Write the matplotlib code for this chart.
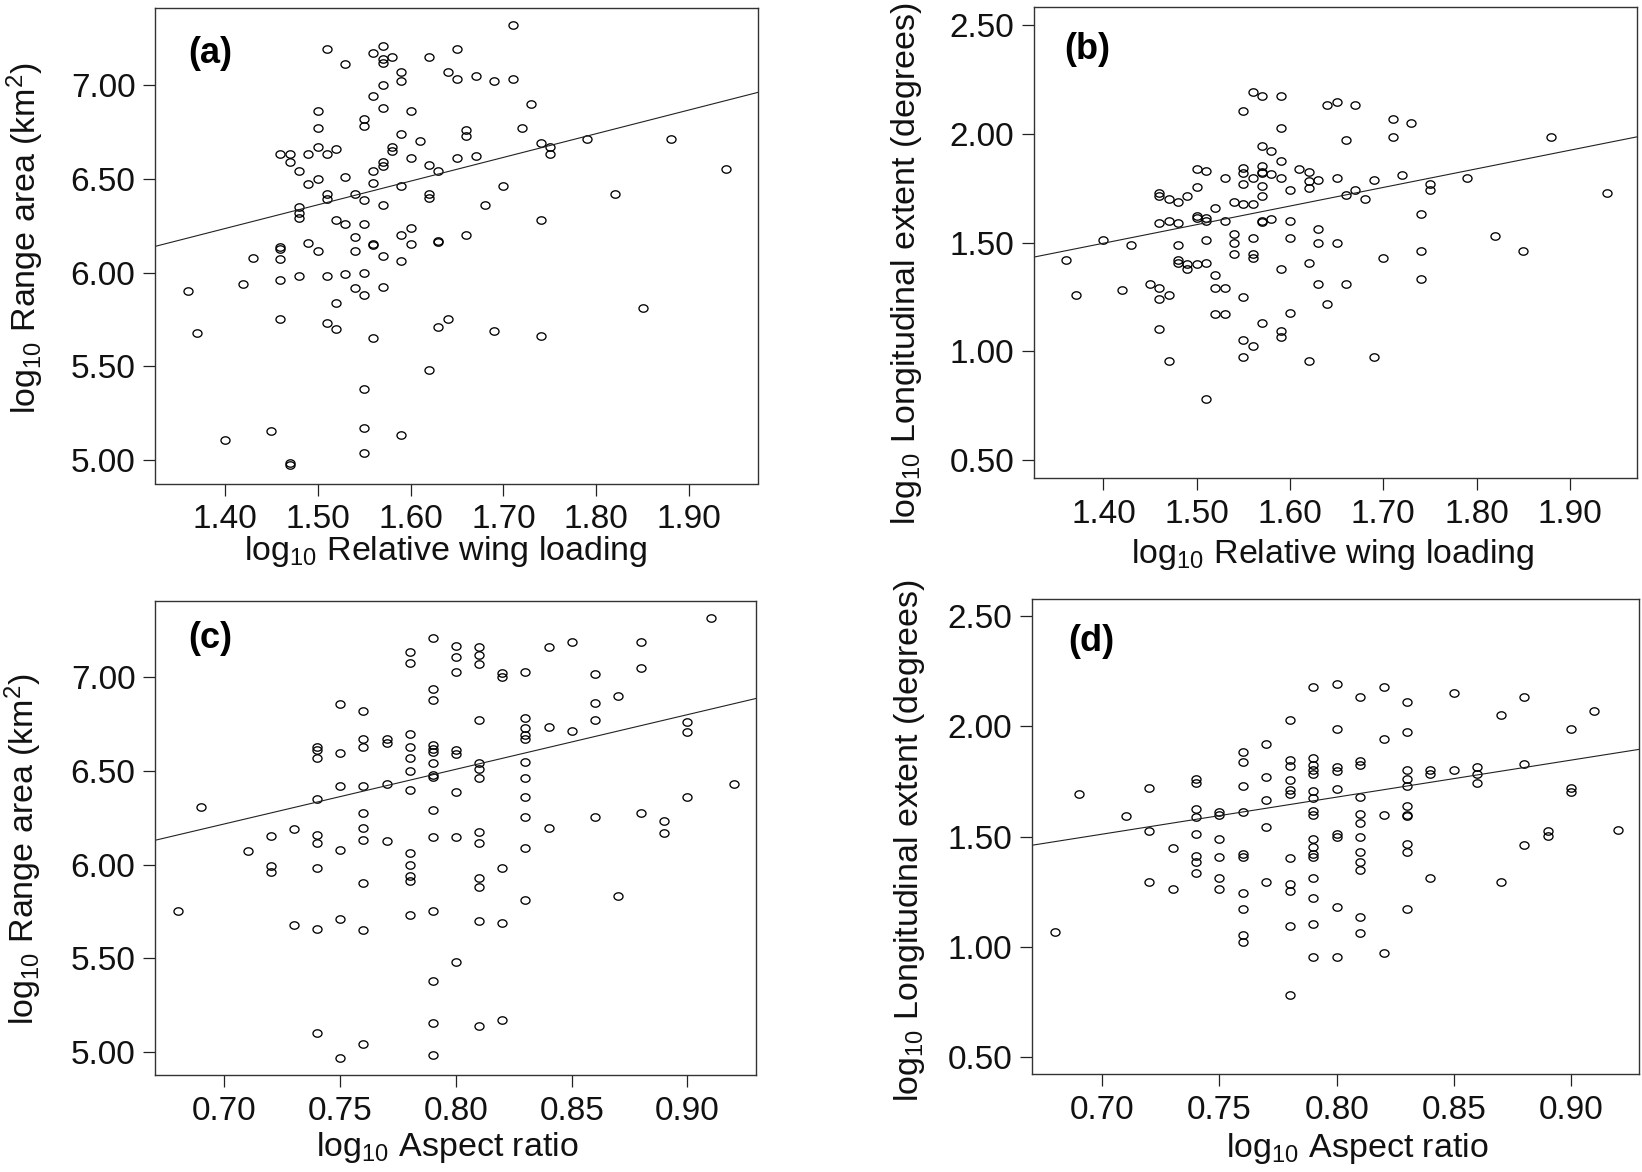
import matplotlib
matplotlib.use("Agg")
import matplotlib.pyplot as plt
import numpy as np
from matplotlib.path import Path

plt.rcParams['font.family'] = ['Liberation Sans', 'DejaVu Sans']
plt.rcParams['mathtext.fontset'] = 'custom'
plt.rcParams['mathtext.rm'] = 'Liberation Sans'
plt.rcParams['mathtext.it'] = 'Liberation Sans:italic'
plt.rcParams['mathtext.bf'] = 'Liberation Sans:bold'

# ---- data ----
# (a) log10 relative wing loading vs log10 range area
xa = [1.71, 1.51, 1.57, 1.56, 1.58, 1.57, 1.57, 1.53, 1.62, 1.65, 1.59, 1.59, 1.64, 1.65, 1.67,
      1.69, 1.71, 1.57, 1.56, 1.57, 1.73, 1.50, 1.60, 1.55, 1.55, 1.50, 1.72, 1.66, 1.66, 1.59,
      1.79, 1.88, 1.61, 1.58, 1.58, 1.74, 1.75, 1.75, 1.50, 1.52, 1.46, 1.47, 1.47, 1.49, 1.51,
      1.60, 1.65, 1.67, 1.57, 1.57, 1.62, 1.94, 1.48, 1.56, 1.63, 1.53, 1.50, 1.56, 1.49, 1.59,
      1.70, 1.54, 1.51, 1.51, 1.62, 1.62, 1.82, 1.55, 1.57, 1.68, 1.48, 1.48, 1.48, 1.52, 1.74,
      1.53, 1.55, 1.60, 1.59, 1.66, 1.54, 1.63, 1.63, 1.56, 1.56, 1.60, 1.49, 1.46, 1.46, 1.50,
      1.54, 1.57, 1.43, 1.59, 1.46, 1.55, 1.53, 1.48, 1.51, 1.46, 1.42, 1.57, 1.54, 1.36, 1.55,
      1.52, 1.85, 1.46, 1.64, 1.51, 1.63, 1.52, 1.69, 1.37, 1.56, 1.74, 1.62, 1.55, 1.40, 1.45,
      1.55, 1.59, 1.55, 1.47, 1.47]
ya = [7.32, 7.19, 7.21, 7.17, 7.15, 7.14, 7.12, 7.11, 7.15, 7.19, 7.07, 7.02, 7.07, 7.03, 7.05,
      7.02, 7.03, 7.00, 6.94, 6.88, 6.90, 6.86, 6.86, 6.82, 6.78, 6.77, 6.77, 6.76, 6.73, 6.74,
      6.71, 6.71, 6.70, 6.67, 6.65, 6.69, 6.67, 6.63, 6.67, 6.66, 6.63, 6.63, 6.59, 6.63, 6.63,
      6.61, 6.61, 6.62, 6.59, 6.57, 6.575, 6.55, 6.54, 6.54, 6.54, 6.51, 6.50, 6.48, 6.47, 6.46,
      6.46, 6.42, 6.42, 6.39, 6.42, 6.40, 6.42, 6.385, 6.36, 6.36, 6.35, 6.32, 6.29, 6.28, 6.28,
      6.26, 6.26, 6.24, 6.20, 6.20, 6.19, 6.17, 6.165, 6.15, 6.145, 6.15, 6.155, 6.135, 6.125, 6.115,
      6.115, 6.09, 6.075, 6.06, 6.07, 6.00, 5.99, 5.98, 5.98, 5.96, 5.94, 5.925, 5.92, 5.90, 5.88,
      5.835, 5.81, 5.75, 5.75, 5.73, 5.71, 5.70, 5.69, 5.68, 5.65, 5.66, 5.48, 5.38, 5.105, 5.155,
      5.17, 5.135, 5.04, 4.985, 4.975]

# (b) log10 relative wing loading vs log10 longitudinal extent
xb = [1.56, 1.57, 1.59, 1.55, 1.64, 1.65, 1.67, 1.71, 1.73, 1.59, 1.71, 1.88, 1.66, 1.57, 1.58,
      1.59, 1.57, 1.57, 1.57, 1.55, 1.55, 1.55, 1.50, 1.51, 1.58, 1.61, 1.62, 1.62, 1.62, 1.63,
      1.53, 1.56, 1.59, 1.65, 1.69, 1.72, 1.79, 1.75, 1.75, 1.50, 1.57, 1.60, 1.67, 1.66, 1.46,
      1.46, 1.49, 1.57, 1.47, 1.48, 1.68, 1.54, 1.55, 1.56, 1.52, 1.74, 1.50, 1.50, 1.51, 1.51,
      1.58, 1.46, 1.47, 1.48, 1.53, 1.57, 1.57, 1.60, 1.63, 1.54, 1.56, 1.60, 1.82, 1.40, 1.51,
      1.43, 1.48, 1.54, 1.63, 1.65, 1.85, 1.74, 1.54, 1.56, 1.56, 1.70, 1.36, 1.48, 1.48, 1.49,
      1.49, 1.50, 1.51, 1.62, 1.59, 1.74, 1.52, 1.45, 1.46, 1.42, 1.52, 1.53, 1.63, 1.66, 1.37,
      1.47, 1.55, 1.46, 1.64, 1.52, 1.53, 1.60, 1.57, 1.46, 1.59, 1.59, 1.55, 1.56, 1.55, 1.69,
      1.47, 1.62, 1.51, 1.94]
yb = [2.19, 2.175, 2.175, 2.107, 2.131, 2.148, 2.131, 2.067, 2.051, 2.028, 1.987, 1.987, 1.970, 1.943, 1.920,
      1.877, 1.852, 1.825, 1.818, 1.841, 1.820, 1.767, 1.839, 1.828, 1.816, 1.838, 1.823, 1.782, 1.751, 1.787,
      1.798, 1.798, 1.798, 1.798, 1.787, 1.810, 1.798, 1.770, 1.741, 1.757, 1.759, 1.741, 1.741, 1.720, 1.730,
      1.716, 1.713, 1.713, 1.702, 1.687, 1.702, 1.687, 1.677, 1.677, 1.661, 1.631, 1.623, 1.611, 1.611, 1.600,
      1.608, 1.592, 1.598, 1.592, 1.598, 1.597, 1.593, 1.598, 1.562, 1.539, 1.523, 1.523, 1.528, 1.513, 1.511,
      1.489, 1.489, 1.497, 1.500, 1.500, 1.461, 1.461, 1.448, 1.448, 1.431, 1.431, 1.420, 1.420, 1.407, 1.402,
      1.380, 1.402, 1.407, 1.407, 1.380, 1.333, 1.351, 1.308, 1.293, 1.282, 1.293, 1.293, 1.310, 1.310, 1.259,
      1.259, 1.252, 1.241, 1.218, 1.172, 1.172, 1.177, 1.131, 1.103, 1.093, 1.064, 1.052, 1.025, 0.972, 0.972,
      0.954, 0.954, 0.782, 1.728]

# (c) log10 aspect ratio vs log10 range area
xc = [0.91, 0.79, 0.80, 0.80, 0.80, 0.81, 0.81, 0.81, 0.78, 0.78, 0.85, 0.88, 0.88, 0.84, 0.82,
      0.82, 0.83, 0.86, 0.79, 0.79, 0.87, 0.75, 0.76, 0.86, 0.86, 0.81, 0.83, 0.83, 0.83, 0.83,
      0.84, 0.85, 0.90, 0.90, 0.78, 0.76, 0.76, 0.77, 0.77, 0.74, 0.74, 0.74, 0.78, 0.78, 0.79,
      0.79, 0.79, 0.80, 0.80, 0.75, 0.79, 0.79, 0.79, 0.81, 0.81, 0.81, 0.78, 0.83, 0.83, 0.75,
      0.76, 0.77, 0.92, 0.78, 0.80, 0.74, 0.83, 0.90, 0.69, 0.79, 0.76, 0.88, 0.83, 0.86, 0.89,
      0.84, 0.76, 0.73, 0.81, 0.89, 0.72, 0.74, 0.79, 0.80, 0.76, 0.77, 0.74, 0.81, 0.83, 0.71,
      0.75, 0.78, 0.78, 0.72, 0.72, 0.74, 0.82, 0.78, 0.78, 0.81, 0.81, 0.76, 0.87, 0.83, 0.68,
      0.79, 0.78, 0.75, 0.81, 0.82, 0.73, 0.74, 0.76, 0.80, 0.79, 0.79, 0.82, 0.81, 0.74, 0.76,
      0.79, 0.75]
yc = [7.32, 7.21, 7.17, 7.11, 7.03, 7.16, 7.12, 7.07, 7.135, 7.075, 7.19, 7.19, 7.05, 7.16, 7.025,
      7.00, 7.03, 7.02, 6.94, 6.88, 6.90, 6.86, 6.82, 6.865, 6.77, 6.77, 6.785, 6.73, 6.69, 6.67,
      6.735, 6.715, 6.76, 6.71, 6.70, 6.67, 6.63, 6.67, 6.65, 6.63, 6.61, 6.57, 6.63, 6.57, 6.64,
      6.62, 6.60, 6.61, 6.59, 6.595, 6.54, 6.48, 6.47, 6.54, 6.51, 6.46, 6.50, 6.55, 6.46, 6.42,
      6.42, 6.43, 6.43, 6.40, 6.385, 6.35, 6.36, 6.36, 6.31, 6.29, 6.275, 6.275, 6.255, 6.255, 6.235,
      6.195, 6.195, 6.19, 6.175, 6.17, 6.155, 6.16, 6.145, 6.145, 6.13, 6.125, 6.115, 6.115, 6.087, 6.07,
      6.075, 6.06, 6.00, 5.99, 5.96, 5.98, 5.98, 5.94, 5.91, 5.93, 5.88, 5.90, 5.83, 5.81, 5.75,
      5.75, 5.73, 5.71, 5.70, 5.69, 5.675, 5.655, 5.65, 5.48, 5.38, 5.155, 5.17, 5.135, 5.10, 5.04,
      4.98, 4.965]

# (d) log10 aspect ratio vs log10 longitudinal extent
xd = [0.79, 0.80, 0.82, 0.81, 0.83, 0.85, 0.88, 0.87, 0.91, 0.78, 0.80, 0.83, 0.90, 0.82, 0.77,
      0.76, 0.76, 0.78, 0.78, 0.79, 0.79, 0.79, 0.79, 0.80, 0.80, 0.81, 0.81, 0.83, 0.83, 0.83,
      0.84, 0.84, 0.85, 0.86, 0.86, 0.86, 0.88, 0.74, 0.74, 0.77, 0.78, 0.78, 0.78, 0.76, 0.72,
      0.80, 0.79, 0.79, 0.81, 0.69, 0.77, 0.90, 0.90, 0.74, 0.74, 0.75, 0.75, 0.76, 0.79, 0.79,
      0.81, 0.81, 0.82, 0.83, 0.83, 0.83, 0.71, 0.77, 0.72, 0.74, 0.80, 0.80, 0.89, 0.89, 0.92,
      0.75, 0.79, 0.79, 0.79, 0.79, 0.81, 0.81, 0.83, 0.83, 0.88, 0.73, 0.74, 0.74, 0.74, 0.75,
      0.76, 0.76, 0.78, 0.81, 0.81, 0.79, 0.84, 0.75, 0.75, 0.72, 0.77, 0.87, 0.78, 0.78, 0.73,
      0.76, 0.79, 0.80, 0.76, 0.83, 0.81, 0.78, 0.79, 0.68, 0.76, 0.76, 0.81, 0.82, 0.79, 0.80,
      0.78]
yd = [2.179, 2.191, 2.179, 2.132, 2.110, 2.150, 2.132, 2.052, 2.069, 2.028, 1.989, 1.972, 1.989, 1.943, 1.920,
      1.881, 1.838, 1.845, 1.821, 1.854, 1.825, 1.803, 1.785, 1.813, 1.799, 1.842, 1.825, 1.801, 1.762, 1.729,
      1.803, 1.785, 1.801, 1.813, 1.785, 1.743, 1.830, 1.762, 1.743, 1.772, 1.755, 1.710, 1.691, 1.731, 1.720,
      1.714, 1.705, 1.676, 1.679, 1.691, 1.664, 1.722, 1.702, 1.625, 1.591, 1.613, 1.596, 1.611, 1.615, 1.599,
      1.603, 1.563, 1.599, 1.637, 1.599, 1.594, 1.594, 1.543, 1.526, 1.514, 1.514, 1.500, 1.526, 1.503, 1.531,
      1.490, 1.490, 1.454, 1.420, 1.406, 1.500, 1.432, 1.466, 1.432, 1.461, 1.449, 1.411, 1.384, 1.336, 1.409,
      1.421, 1.408, 1.403, 1.384, 1.351, 1.312, 1.312, 1.312, 1.261, 1.295, 1.295, 1.295, 1.285, 1.254, 1.261,
      1.244, 1.220, 1.180, 1.174, 1.174, 1.134, 1.095, 1.105, 1.066, 1.056, 1.025, 1.064, 0.974, 0.956, 0.956,
      0.784]

# fitted lines (slope, intercept)
fit_a = (1.266, 4.462)
fit_b = (0.855, 0.300)
fit_c = (2.92, 4.173)
fit_d = (1.676, 0.338)

wing_ticks = [1.40, 1.50, 1.60, 1.70, 1.80, 1.90]
aspect_ticks = [0.70, 0.75, 0.80, 0.85, 0.90]
area_ticks = [5.00, 5.50, 6.00, 6.50, 7.00]
extent_ticks = [0.50, 1.00, 1.50, 2.00, 2.50]

lbl_wing = r'log$_{10}$ Relative wing loading'
lbl_aspect = r'log$_{10}$ Aspect ratio'
lbl_area = r'log$_{10}$ Range area (km$^{2}$)'
lbl_extent = r'log$_{10}$ Longitudinal extent (degrees)'

W, H = 1642, 1172
fig = plt.figure(figsize=(W / 100, H / 100), dpi=100)

# slightly flattened open circle, like the original symbols
t = np.linspace(0, 2 * np.pi, 50)
ellipse = Path(np.column_stack([np.cos(t), 0.82 * np.sin(t)]), closed=True)


def px_axes(left, top, right, bottom):
    return fig.add_axes([left / W, 1 - bottom / H, (right - left) / W, (bottom - top) / H])


def panel(box, x, y, fit, xlim, ylim, xticks, yticks, tag, tag_xy,
          xlabel, xlabel_pos, ylabel, ylabel_pos):
    ax = px_axes(*box)
    ax.plot(x, y, linestyle='none', marker=ellipse, markersize=6.5,
            markerfacecolor='none', markeredgecolor='black', markeredgewidth=0.95)
    xs = np.array(xlim)
    ax.plot(xs, fit[0] * xs + fit[1], color='#222222', lw=0.8)
    ax.set_xlim(xlim)
    ax.set_ylim(ylim)
    ax.set_xticks(xticks)
    ax.set_yticks(yticks)
    ax.set_xticklabels(['%.2f' % v for v in xticks])
    ax.set_yticklabels(['%.2f' % v for v in yticks])
    ax.tick_params(direction='out', length=8.6, width=0.9, labelsize=24,
                   colors='#222222', labelcolor='#111111', pad=5.5)
    ax.tick_params(axis='x', pad=6.5)
    for s in ax.spines.values():
        s.set_linewidth(1.0)
        s.set_color('#333333')
    ax.text(tag_xy[0], tag_xy[1], tag, transform=ax.transAxes, fontsize=26,
            fontweight='bold', ha='left', va='center')
    fig.text(xlabel_pos[0] / W, 1 - xlabel_pos[1] / H, xlabel, fontsize=24.5,
             ha='left', va='baseline', color='#111111')
    fig.text(ylabel_pos[0] / W, 1 - ylabel_pos[1] / H, ylabel, fontsize=24.5,
             rotation=90, ha='center', va='bottom', color='#111111')
    return ax


panel((155, 8, 758, 483.5), xa, ya, fit_a, (1.325, 1.974), (4.875, 7.411),
      wing_ticks, area_ticks, '(a)', (0.055, 0.905),
      lbl_wing, (244, 560), lbl_area, (25, 414))
panel((1034, 7, 1637, 477.7), xb, yb, fit_b, (1.3255, 1.972), (0.419, 2.583),
      wing_ticks, extent_ticks, '(b)', (0.05, 0.91),
      lbl_wing, (1131, 563), lbl_extent, (906, 525))
panel((155, 600.7, 756, 1075), xc, yc, fit_c, (0.670, 0.9296), (4.875, 7.41),
      aspect_ticks, area_ticks, '(c)', (0.055, 0.92),
      lbl_aspect, (316, 1156), lbl_area, (23, 1025))
panel((1032, 599, 1639, 1074), xd, yd, fit_d, (0.670, 0.929), (0.425, 2.576),
      aspect_ticks, extent_ticks, '(d)', (0.06, 0.91),
      lbl_aspect, (1226, 1157), lbl_extent, (909, 1102))

fig.savefig('out.png', dpi=100)
